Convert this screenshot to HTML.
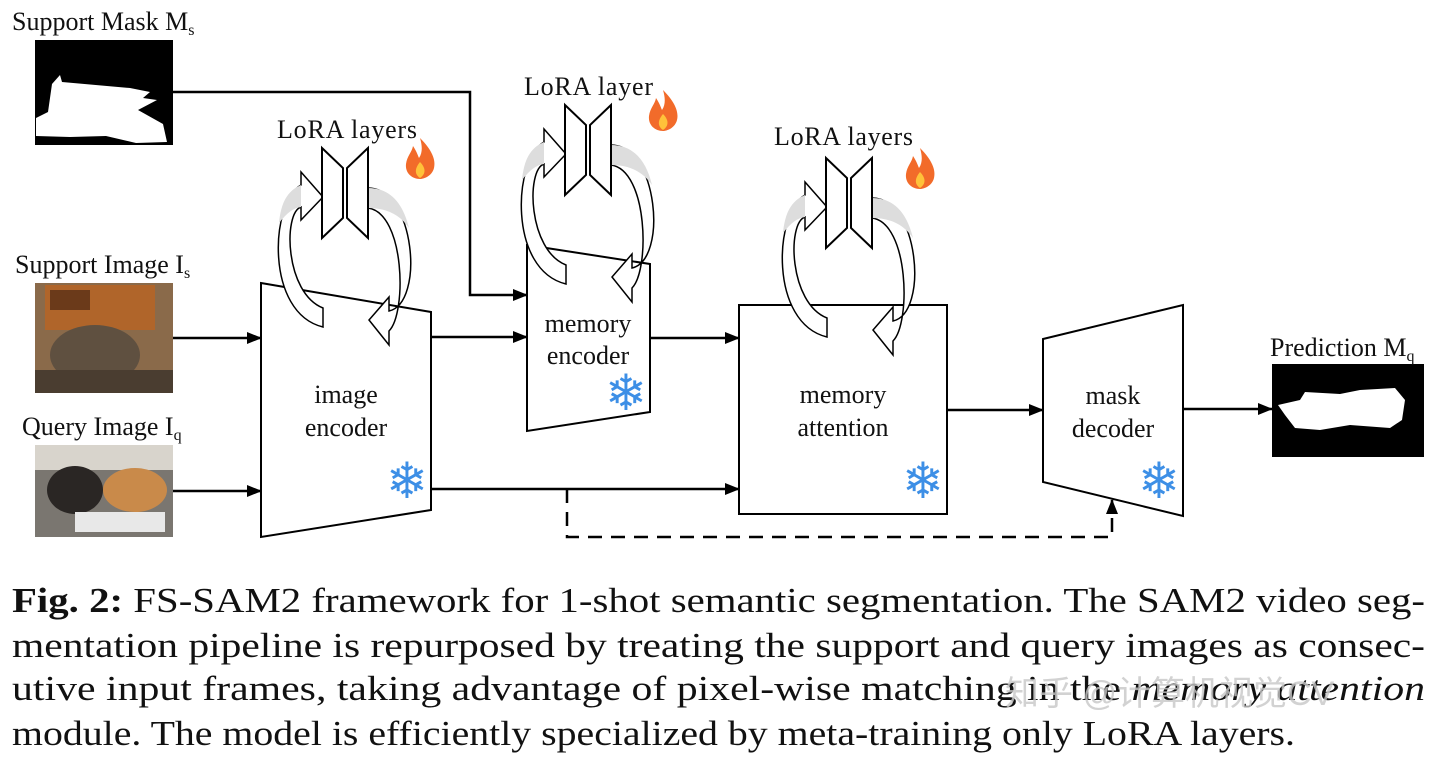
<!DOCTYPE html>
<html><head><meta charset="utf-8"><style>
html,body{margin:0;padding:0;background:#fff;}
svg{display:block;}
text{font-family:"Liberation Serif",serif;fill:#111;}
</style></head><body>
<svg width="1440" height="759" viewBox="0 0 1440 759" xmlns="http://www.w3.org/2000/svg">
<defs>
<marker id="ah" markerWidth="16" markerHeight="12" refX="14" refY="6" orient="auto" markerUnits="userSpaceOnUse">
<path d="M0,0 L15,6 L0,12 Z" fill="#000"/>
</marker>
<g id="lora">
<path d="M-44,-8 C-75,10 -80,120 -22,134 L-22,115 C-60,100 -62,20 -44,14 L-44,27 L-22,4 L-44,-21 Z" fill="#fff" stroke="#000" stroke-width="1.5"/>
<path d="M-44,-8 C-58,-2 -64,10 -66,30 C-58,20 -52,15 -44,14 Z" fill="#ddd"/>
<path d="M23,-5 C70,-5 80,110 44,118 L44,104 L24,127 L44,152 L44,138 C62,120 60,20 23,15 Z" fill="#fff" stroke="#000" stroke-width="1.5"/>
<path d="M23,-5 C45,-5 58,10 64,35 C55,22 42,15 23,15 Z" fill="#ddd"/>
<path d="M-23,-45 L-2,-25 L-2,25 L-23,45 Z" fill="#fff" stroke="#000" stroke-width="2"/>
<path d="M23,-45 L2,-25 L2,25 L23,45 Z" fill="#fff" stroke="#000" stroke-width="2"/>
</g>
<g id="flame">
<path d="M0,-22 C12,-10 16,0 14,8 C12,16 4,19 0,19 C-8,19 -15,13 -14,4 C-13,-4 -8,-8 -7,-14 C-3,-8 -2,-4 -1,-2 C3,-8 2,-15 0,-22 Z" fill="#f26b2a"/>
<path d="M0,2 C6,8 6,14 0,18 C-6,14 -5,8 0,2 Z" fill="#ffc23a"/>
</g>
</defs>

<rect x="35" y="40" width="138" height="105" fill="#000"/>
<path d="M36,118 L48,112 L52,84 L60,75 L62,82 L130,88 L150,92 L143,98 L157,100 L138,110 L163,124 L167,142 L136,143 L106,136 L70,137 L36,136 Z" fill="#fff"/>
<rect x="35" y="283" width="138" height="110" fill="#8a6a4a"/>
<rect x="45" y="285" width="110" height="45" fill="#b0652a"/>
<rect x="50" y="290" width="40" height="20" fill="#6b3a1a"/>
<ellipse cx="95" cy="355" rx="45" ry="30" fill="#5f5040"/>
<rect x="35" y="370" width="138" height="23" fill="#4a3d30"/>
<rect x="35" y="445" width="138" height="92" fill="#7a7670"/>
<rect x="35" y="445" width="138" height="25" fill="#d8d4cc"/>
<ellipse cx="75" cy="490" rx="28" ry="24" fill="#2a2624"/>
<ellipse cx="135" cy="490" rx="32" ry="22" fill="#c98a4a"/>
<rect x="75" y="512" width="90" height="20" fill="#e8e8e8"/>

<polygon points="261,283 431,312 431,510 261,537" fill="#fff" stroke="#000" stroke-width="2"/>
<polygon points="527,245 650,264 650,412 527,431" fill="#fff" stroke="#000" stroke-width="2"/>
<rect x="739" y="305" width="208" height="209" fill="#fff" stroke="#000" stroke-width="2"/>
<polygon points="1043,339 1183,305 1183,516 1043,482" fill="#fff" stroke="#000" stroke-width="2"/>
<rect x="1272" y="364" width="152" height="93" fill="#000"/>
<path d="M1278,405 L1300,400 L1305,392 L1340,394 L1360,390 L1395,388 L1405,400 L1402,420 L1390,428 L1350,425 L1320,430 L1295,428 L1285,415 Z" fill="#fff"/>

<g stroke="#000" stroke-width="2.5" fill="none">
<line x1="173" y1="338" x2="261" y2="338" marker-end="url(#ah)"/>
<line x1="173" y1="491" x2="261" y2="491" marker-end="url(#ah)"/>
<polyline points="173,92 470,92 470,295 527,295" marker-end="url(#ah)"/>
<line x1="431" y1="337" x2="527" y2="337" marker-end="url(#ah)"/>
<line x1="650" y1="338" x2="739" y2="338" marker-end="url(#ah)"/>
<line x1="431" y1="489" x2="739" y2="489" marker-end="url(#ah)"/>
<line x1="947" y1="410" x2="1043" y2="410" marker-end="url(#ah)"/>
<line x1="1183" y1="409" x2="1272" y2="409" marker-end="url(#ah)"/>
<polyline points="567,489 567,537 1112,537 1112,500" stroke-dasharray="14,9" marker-end="url(#ah)"/>
</g>

<use href="#lora" transform="translate(345,193)"/>
<use href="#lora" transform="translate(588,150)"/>
<use href="#lora" transform="translate(849,203)"/>
<use href="#flame" transform="translate(420,160)"/>
<use href="#flame" transform="translate(663,112)"/>
<use href="#flame" transform="translate(920,170)"/>

<g font-size="50">
<text x="386" y="498" style="fill:#3d8fe6">❄</text>
<text x="605" y="410" style="fill:#3d8fe6">❄</text>
<text x="902" y="498" style="fill:#3d8fe6">❄</text>
<text x="1138" y="498" style="fill:#3d8fe6">❄</text>
</g>

<g font-size="26">
<text x="12" y="30">Support Mask M<tspan font-size="16" dy="5">s</tspan></text>
<text x="15" y="273">Support Image I<tspan font-size="16" dy="5">s</tspan></text>
<text x="22" y="435">Query Image I<tspan font-size="16" dy="5">q</tspan></text>
<text x="1270" y="356">Prediction M<tspan font-size="16" dy="5">q</tspan></text>
<text x="277" y="138" textLength="140">LoRA layers</text>
<text x="524" y="95" textLength="129">LoRA layer</text>
<text x="774" y="145" textLength="139">LoRA layers</text>
<g text-anchor="middle">
<text x="346" y="403">image</text><text x="346" y="436">encoder</text>
<text x="588" y="332">memory</text><text x="588" y="364">encoder</text>
<text x="843" y="403">memory</text><text x="843" y="436">attention</text>
<text x="1113" y="404">mask</text><text x="1113" y="437">decoder</text>
</g>
</g>

<g font-size="35">
<text x="12" y="612" textLength="1413" lengthAdjust="spacingAndGlyphs"><tspan font-weight="bold">Fig. 2:</tspan> FS-SAM2 framework for 1-shot semantic segmentation. The SAM2 video seg-</text>
<text x="12" y="657" textLength="1413" lengthAdjust="spacingAndGlyphs">mentation pipeline is repurposed by treating the support and query images as consec-</text>
<text x="12" y="700" textLength="1413" lengthAdjust="spacingAndGlyphs">utive input frames, taking advantage of pixel-wise matching in the <tspan font-style="italic">memory attention</tspan></text>
<text x="12" y="745" textLength="1283" lengthAdjust="spacingAndGlyphs">module. The model is efficiently specialized by meta-training only LoRA layers.</text>
</g>
<text x="1005" y="705" font-size="34" style="fill:#c8c8c8;font-family:'Liberation Sans','Noto Sans CJK SC',sans-serif" opacity="0.8">知乎 @计算机视觉CV</text>
</svg>
</body></html>
